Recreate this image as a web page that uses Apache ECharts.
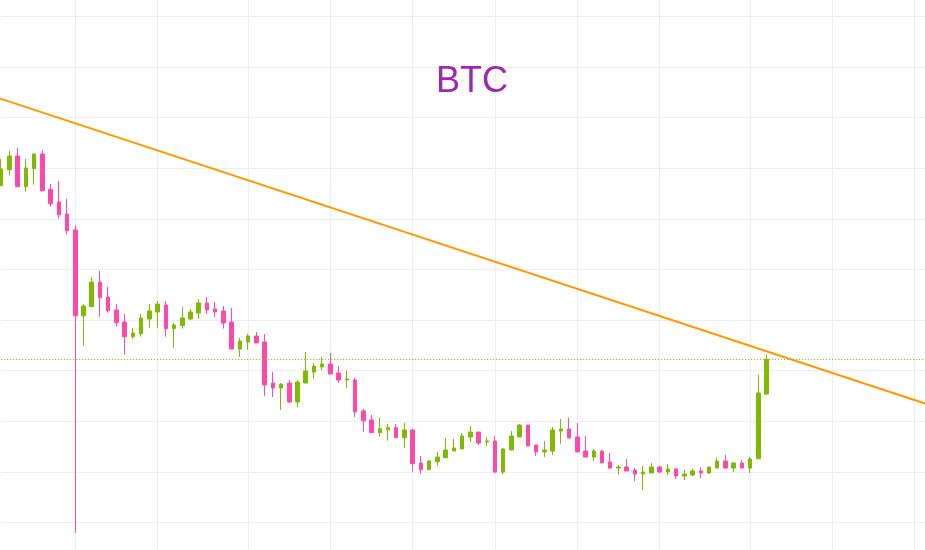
<!DOCTYPE html>
<html><head><meta charset="utf-8">
<script src="https://cdn.jsdelivr.net/npm/echarts@6/dist/echarts.min.js"></script>
<style>html,body{margin:0;padding:0;background:#fff;overflow:hidden;width:925px;height:550px;position:relative}
#c{position:absolute;left:-40px;top:-75px;width:1000px;height:700px}</style>
</head><body><div id="c"></div>
<script>
const chartTitle = 'BTC';
const startDate = '2020-03-02';
const categoryCount = 114;
const splitDays = [1, 11, 21];

const opens = [8328,8486,8621,8318,8496,8641,8292,8167,8048,7890,
7043,7132,7376,7228,7100,6981,6836,6866,7011,7080,
7149,6915,6945,7011,7070,7169,7110,7090,6981,6714,
6784,6843,6784,6378,6329,6378,6191,6378,6487,6537,
6566,6477,6408,6408,6102,6013,5887,5917,5937,5838,
5914,5588,5522,5601,5640,5706,5726,5845,5894,5795,
5805,5499,5716,5845,5963,5766,5697,5706,5904,5924,
5845,5706,5647,5706,5598,5538,5548,5519,5479,5489,
5548,5499,5529,5459,5469,5509,5489,5538,5608,5538,
5588,5538,5630,6270];
const closes = [8493,8621,8318,8503,8641,8279,8150,8041,7883,7043,
7139,7376,7221,7093,6974,6836,6873,7021,7090,7159,
6915,6952,7021,7080,7169,7100,7080,6971,6714,6793,
6843,6774,6359,6329,6368,6191,6388,6497,6546,6566,
6467,6408,6418,6092,6006,5887,5927,5937,5838,5914,
5581,5522,5608,5647,5716,5736,5855,5894,5786,5805,
5499,5726,5855,5963,5756,5697,5716,5914,5924,5835,
5697,5647,5706,5588,5538,5548,5509,5479,5499,5548,
5499,5529,5459,5479,5509,5489,5548,5608,5538,5588,
5538,5627,6280,6613];
const lows = [8328,8427,8318,8269,8338,8279,8120,8002,7844,4899,
6747,7132,7034,7073,6935,6658,6816,6836,6925,6925,
6836,6727,6915,7001,7011,7060,7031,6915,6714,6638,
6705,6774,6250,6240,6112,6181,6141,6378,6418,6507,
6467,6378,6329,6043,5897,5887,5848,5808,5838,5739,
5502,5482,5522,5561,5640,5706,5726,5795,5766,5756,
5489,5479,5716,5845,5756,5657,5647,5667,5776,5835,
5697,5647,5608,5588,5529,5469,5509,5410,5321,5489,
5489,5469,5430,5420,5459,5440,5479,5538,5529,5499,
5538,5489,5630,6260];
const highs = [8592,8671,8701,8592,8651,8681,8345,8374,8197,7937,
7159,7426,7485,7327,7159,7060,6922,7060,7159,7189,
7189,6971,7129,7110,7208,7228,7179,7139,7120,6823,
6863,6882,6863,6487,6378,6408,6408,6685,6576,6635,
6675,6546,6497,6428,6122,6062,6033,5973,5973,5983,
5924,5657,5618,5697,5835,5825,5884,5953,5894,5845,
5855,5736,5904,5973,5963,5766,5805,5944,6023,6033,
5983,5855,5726,5716,5687,5568,5627,5538,5558,5588,
5558,5578,5538,5519,5529,5548,5548,5637,5667,5588,
5618,5647,6458,6655];

const trendline = [[-1, 9213], [114, 6129]];
const yMin = 4500, yMax = 10500, yStep = 500;

const upColor = '#7fba00';
const downColor = '#ff48a9';
const gridColor = '#eeeeee';

const categories = [];
{
  const d = new Date(startDate + 'T00:00:00Z');
  for (let i = 0; i < categoryCount; i++) {
    categories.push(d.toISOString().slice(0, 10));
    d.setUTCDate(d.getUTCDate() + 1);
  }
}
const ohlc = opens.map((o, i) => [o, closes[i], lows[i], highs[i]]);
const lastClose = closes[closes.length - 1];
const lastUp = closes[closes.length - 1] >= opens[opens.length - 1];
const priceLineColor = lastUp ? upColor : downColor;

const chart = echarts.init(document.getElementById('c'), null, {renderer: 'canvas'});
chart.setOption({
  animation: false,
  backgroundColor: '#ffffff',
  title: {
    text: chartTitle, left: 476, top: 139, padding: 0,
    textStyle: {color: '#9c27b0', fontSize: 36, fontWeight: 'normal', fontFamily: 'Liberation Sans, Arial, sans-serif'}
  },
  grid: {left: 41.2, width: 930, top: 40.9, height: 607.2},
  xAxis: [{
    type: 'category', data: categories, boundaryGap: false,
    axisLine: {show: false}, axisTick: {show: false}, axisLabel: {show: false},
    splitLine: {show: true, lineStyle: {color: gridColor, width: 1},
      interval: (idx, val) => splitDays.indexOf(+String(val).slice(8, 10)) >= 0}
  }, {
    type: 'value', min: 0, max: categoryCount - 1, show: false
  }],
  yAxis: {
    type: 'value', min: yMin, max: yMax, interval: yStep,
    axisLine: {show: false}, axisTick: {show: false}, axisLabel: {show: false},
    splitLine: {show: true, lineStyle: {color: gridColor, width: 1}}
  },
  series: [{
    type: 'candlestick', data: ohlc, barWidth: 4, clip: false,
    itemStyle: {color: upColor, color0: downColor, borderColor: upColor, borderColor0: downColor, borderWidth: 1},
    markLine: {
      silent: true, symbol: ['none', 'none'], label: {show: false},
      lineStyle: {color: priceLineColor, type: [1, 2], width: 1},
      itemStyle: {color: priceLineColor},
      data: [{yAxis: lastClose, lineStyle: {color: priceLineColor, type: [1, 2], width: 1}}]
    }
  }, {
    type: 'line', xAxisIndex: 1, data: trendline, clip: false,
    symbol: 'none', lineStyle: {color: '#ff9a00', width: 2}, silent: true
  }]
});
</script></body></html>
